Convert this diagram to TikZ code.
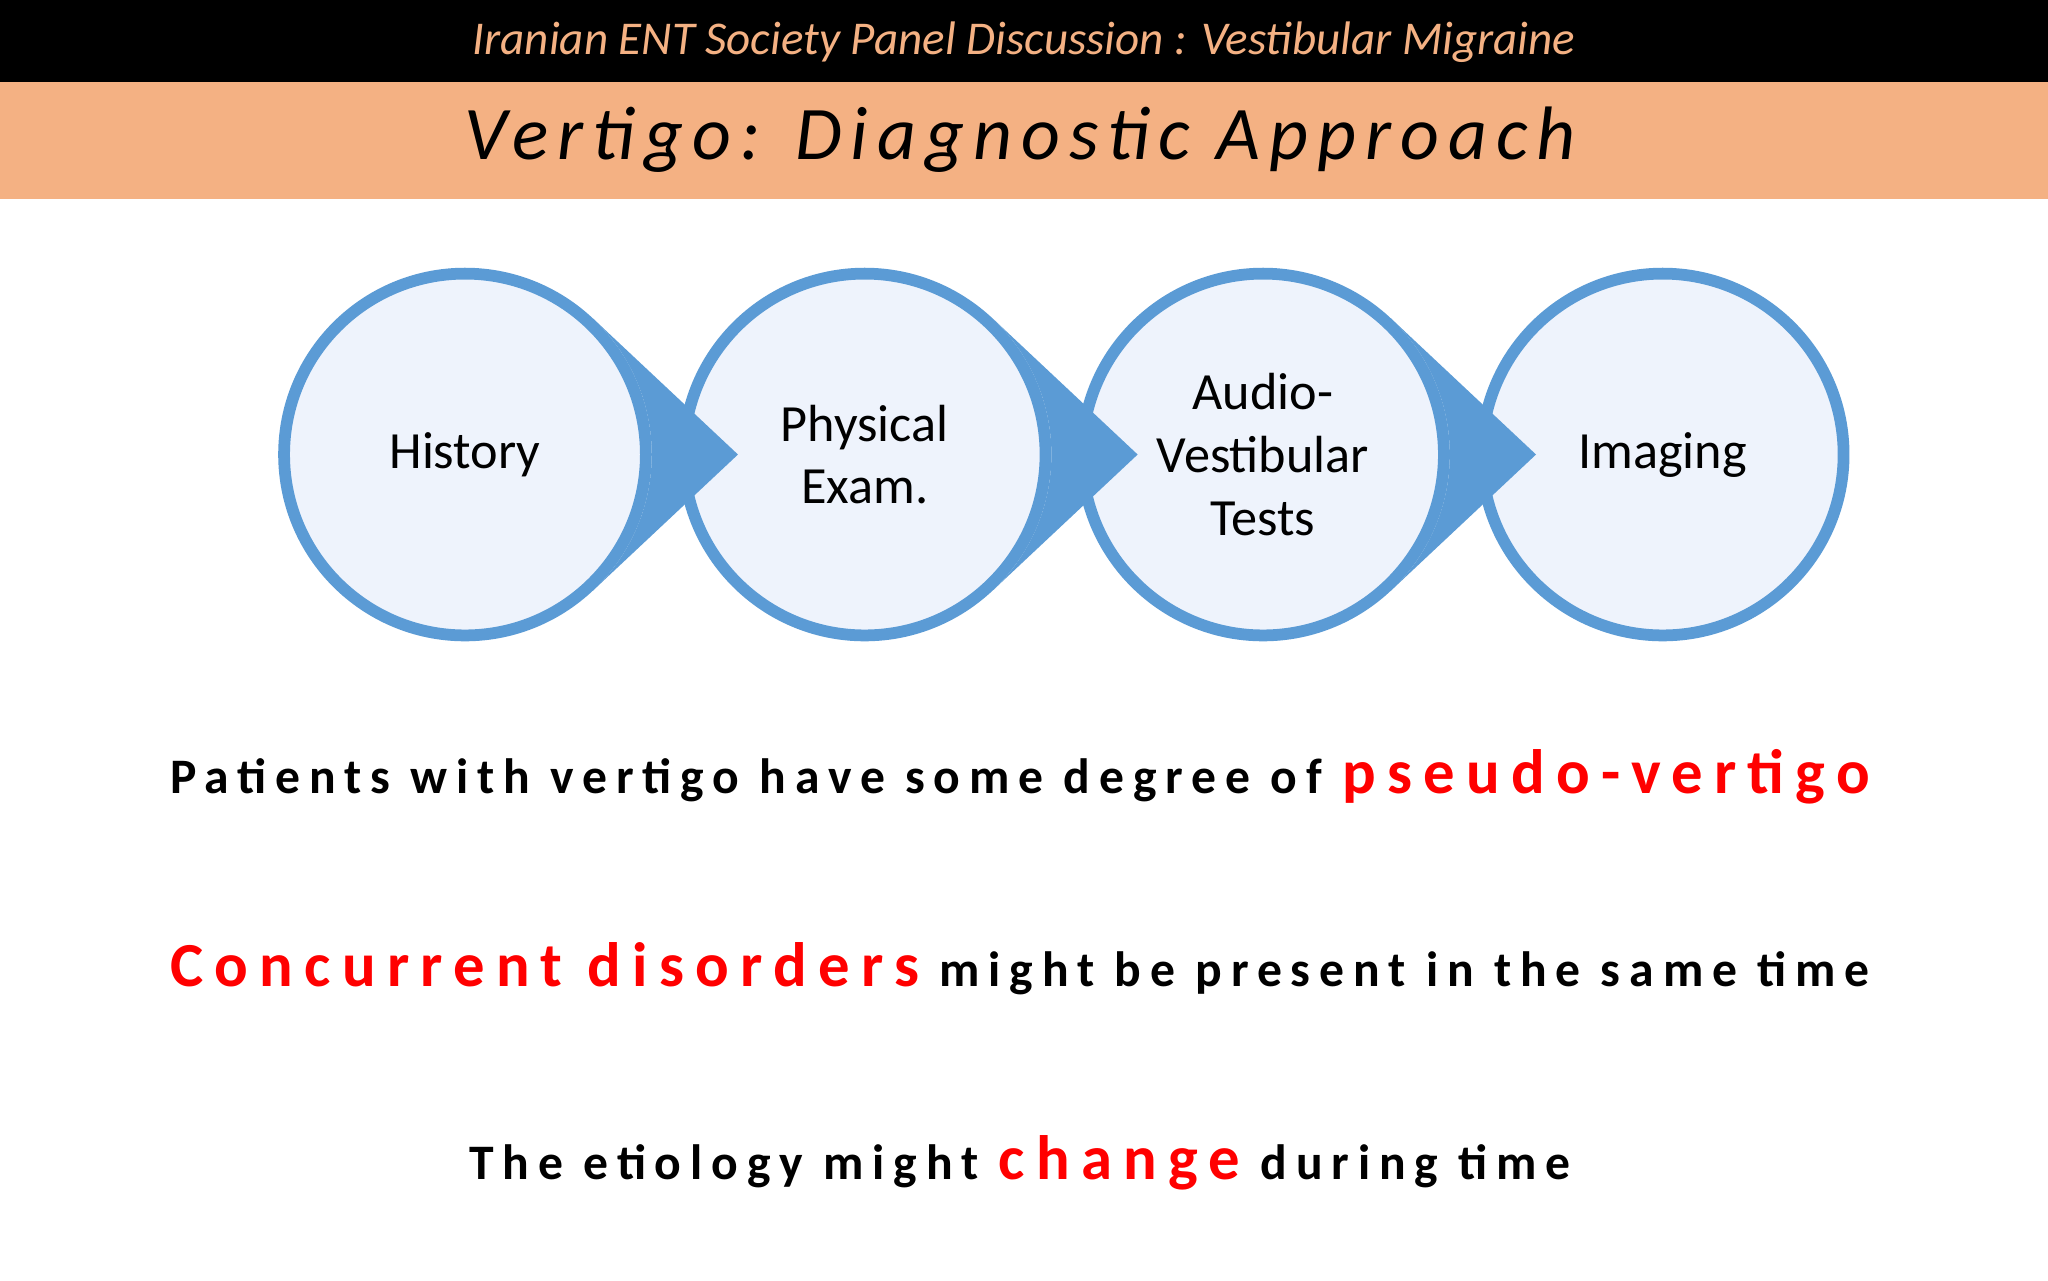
\documentclass[tikz,border=0pt]{standalone}
\usepackage{fontspec}
\usetikzlibrary{calc}
\setmainfont{Carlito}
\newfontfamily\spaced[LetterSpace=18]{Carlito}
\newfontfamily\titlef[LetterSpace=12]{Carlito}
\definecolor{cbl}{HTML}{5B9BD5}
\definecolor{cfill}{HTML}{EEF3FC}
\definecolor{corg}{HTML}{F4B183}
\definecolor{cred}{HTML}{FF0000}
\begin{document}
\begin{tikzpicture}[x=1pt,y=1pt,
  circ/.style={circle,draw=cbl,line width=9pt,fill=cfill,minimum size=277pt,inner sep=0pt,align=center,font=\fontsize{40}{48}\selectfont},
  tab/.style={fill=cbl,draw=none},
  bline/.style={font=\fontsize{38}{44}\selectfont\spaced\bfseries,inner sep=0pt}]
\useasboundingbox (0,0) rectangle (1568,980);
\fill[white] (0,0) rectangle (1568,980);
\fill[black] (0,917) rectangle (1568,980);
\fill[corg] (0,828) rectangle (1568,917);
\node[text=corg,font=\fontsize{36}{40}\selectfont\itshape] (top) at (784,948) {Iranian ENT Society Panel Discussion : Vestibular Migraine};
\node[font=\fontsize{58}{64}\selectfont\titlef\itshape] (title) at (781,873) {Vertigo: Diagnostic Approach};
\foreach \n/\x in {c1/356,c2/662,c3/967,c4/1273}{\coordinate (\n) at (\x,632);}
\node[circ] (n1) at (c1) {History};
\node[circ] (n2) at (c2) {Physical\\Exam.};
\node[circ] (n3) at (c3) {Audio-\\Vestibular\\Tests};
\node[circ] (n4) at (c4) {Imaging};
\foreach \n in {c1,c2,c3}{
  \fill[tab] ($(\n)+(46.8:143)$) -- ($(\n)+(209,0)$) -- ($(\n)+(-46.8:143)$) arc[start angle=-46.8,end angle=46.8,radius=143] -- cycle;
}
\node[bline] (l1) at (781,385) {Patients with vertigo have some degree of {\fontsize{48}{52}\selectfont\color{cred}pseudo-vertigo}};
\node[bline] (l2) at (781,238) {{\fontsize{48}{52}\selectfont\color{cred}Concurrent disorders} might be present in the same time};
\node[bline] (l3) at (781,90) {The etiology might {\fontsize{48}{52}\selectfont\color{cred}change} during time};
\end{tikzpicture}
\end{document}
